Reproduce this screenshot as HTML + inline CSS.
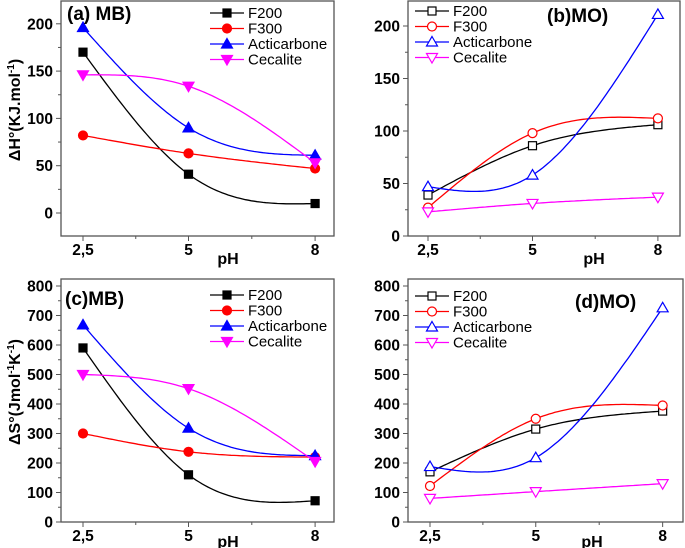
<!DOCTYPE html>
<html><head><meta charset="utf-8"><style>
html,body{margin:0;padding:0;background:#fff;}
svg{display:block;font-family:"Liberation Sans",Arial,sans-serif;}
.b{font-weight:bold;}
</style></head><body>
<svg id="c" width="685" height="548" viewBox="0 0 685 548"></svg>
<script>
const categories=[2.5,5,8];
const tickLabels=["2,5","5","8"];
const seriesNames=["F200","F300","Acticarbone","Cecalite"];
const aF200=[170,41,10],aF300=[82,63,47],aActi=[196,90,61],aCec=[146,134,53];
const bF200=[39,86,106],bF300=[27,98,112],bActi=[47,58,211],bCec=[23,31,37];
const cF200=[590,160,72],cF300=[300,238,220],cActi=[668,318,225],cCec=[500,452,205];
const dF200=[170,315,376],dF300=[122,350,395],dActi=[188,218,726],dCec=[80,103,130];
const aTicks=[0,50,100,150,200],bTicks=[0,50,100,150,200];
const cTicks=[0,100,200,300,400,500,600,700,800],dTicks=[0,100,200,300,400,500,600,700,800];
const colors=["#000","#f00","#00f","#f0f"];
const NS="http://www.w3.org/2000/svg";
const svg=document.getElementById('c');
function mk(t,a,p){const e=document.createElementNS(NS,t);for(const k in a)e.setAttribute(k,a[k]);(p||svg).appendChild(e);return e;}
function spline(xs,ys){
 const n=xs.length,h=[],al=[0],l=[1],mu=[0],z=[0],c=new Array(n).fill(0),b=[],d=[];
 for(let i=0;i<n-1;i++)h.push(xs[i+1]-xs[i]);
 for(let i=1;i<n-1;i++)al.push(3/h[i]*(ys[i+1]-ys[i])-3/h[i-1]*(ys[i]-ys[i-1]));
 for(let i=1;i<n-1;i++){l[i]=2*(xs[i+1]-xs[i-1])-h[i-1]*mu[i-1];mu[i]=h[i]/l[i];z[i]=(al[i]-h[i-1]*z[i-1])/l[i];}
 c[n-1]=0;for(let j=n-2;j>=1;j--)c[j]=z[j]-mu[j]*c[j+1];c[0]=0;
 for(let j=0;j<n-1;j++){b[j]=(ys[j+1]-ys[j])/h[j]-h[j]*(c[j+1]+2*c[j])/3;d[j]=(c[j+1]-c[j])/(3*h[j]);}
 return x=>{let j=x>=xs[1]?1:0;const dx=x-xs[j];return ys[j]+b[j]*dx+c[j]*dx*dx+d[j]*dx*dx*dx;};
}
function marker(g,k,x,y,col,filled,name){
 const f=filled?col:"#fff";let e;
 if(k===0)e=mk('rect',{x:x-4,y:y-4,width:8,height:8,fill:f,stroke:col,'stroke-width':1.2},g);
 else if(k===1)e=mk('circle',{cx:x,cy:y,r:4.5,fill:f,stroke:col,'stroke-width':1.2},g);
 else if(k===2)e=mk('polygon',{points:`${x},${y-5.5} ${x+5.5},${y+4} ${x-5.5},${y+4}`,fill:f,stroke:col,'stroke-width':1.2},g);
 else e=mk('polygon',{points:`${x},${y+5.5} ${x+5.5},${y-4} ${x-5.5},${y-4}`,fill:f,stroke:col,'stroke-width':1.2},g);
 
 
}
function panel(o){
 const g=mk('g',{});
 
 
 const X=v=>o.x0+(v-2.5)*o.kx, Y=v=>o.y0-(v-0)*o.ky;
 const fr=mk('rect',{x:o.L,y:o.T,width:o.R-o.L,height:o.B-o.T,fill:'none',stroke:'#555','stroke-width':1.3},g);
 
 o.ticks.forEach((t,i)=>{const y=Y(t);mk('line',{x1:o.L-5,x2:o.L,y1:y,y2:y,stroke:'#555'},g);
  const tx=mk('text',{x:o.L-8,y:y+5.5,'text-anchor':'end','font-size':15.5,class:'b'},g);tx.textContent=t;
  
  if(i<o.ticks.length-1){const ym=Y((t+o.ticks[i+1])/2);mk('line',{x1:o.L-3,x2:o.L,y1:ym,y2:ym,stroke:'#555'},g);}});
 categories.forEach((c,i)=>{const x=X(c);mk('line',{x1:x,x2:x,y1:o.B,y2:o.B+5,stroke:'#555'},g);
  const tx=mk('text',{x:x,y:o.B+19,'text-anchor':'middle','font-size':15.5,class:'b'},g);tx.textContent=tickLabels[i];
  
  if(i<categories.length-1){const xm=X((c+categories[i+1])/2);mk('line',{x1:xm,x2:xm,y1:o.B,y2:o.B+3,stroke:'#555'},g);}});
 const px=mk('text',{x:o.phx,y:o.phy||o.B+28,'text-anchor':'middle','font-size':16,class:'b'},g);px.textContent='pH';
 
 o.series.forEach((s,k)=>{const f=spline(categories,s);let d='';
  for(let i=0;i<=80;i++){const v=2.5+5.5*i/80;d+=(i?'L':'M')+X(v).toFixed(1)+','+Y(f(v)).toFixed(1);}
  const p=mk('path',{d:d,fill:'none',stroke:colors[k],'stroke-width':1.3},g);
  
  s.forEach((v,i)=>marker(g,k,X(categories[i]),Y(v),colors[k],o.filled,seriesNames[k].toLowerCase()+'-point'));});
 seriesNames.forEach((n,k)=>{const y=o.ly+k*15.5;mk('line',{x1:o.lx,x2:o.lx+34,y1:y,y2:y,stroke:colors[k],'stroke-width':1.3},g);
  marker(g,k,o.lx+17,y,colors[k],o.filled,'legend-marker');
  const t=mk('text',{x:o.lx+38,y:y+5,'font-size':15},g);t.textContent=n;
  });
 const tt=mk('text',{x:o.tx,y:o.ty,'font-size':19,class:'b'},g);tt.textContent=o.title;
 
 if(o.ylab){const yl=mk('text',{x:0,y:0,'font-size':16,class:'b','text-anchor':'middle',transform:`translate(${o.ylx},${o.yly}) rotate(-90)`},g);
  yl.innerHTML=o.ylab;}
}
panel({id:'a',L:61,R:334,T:1,B:236,x0:83,kx:42.2,y0:213,ky:0.946,ticks:aTicks,series:[aF200,aF300,aActi,aCec],filled:true,lx:210,ly:13,tx:67,ty:20,title:'(a) MB)',phx:228,ylab:'ΔH°(KJ.mol<tspan font-size="10" dy="-6">-1</tspan><tspan dy="6">)</tspan>',ylx:20,yly:110});
panel({id:'b',L:408,R:680,T:1,B:236,x0:428,kx:41.8,y0:236,ky:1.05,ticks:bTicks,series:[bF200,bF300,bActi,bCec],filled:false,lx:415,ly:11,tx:547,ty:22,title:'(b)MO)',phx:594});
panel({id:'c',L:61,R:334,T:279,B:522,x0:83,kx:42.2,y0:522,ky:0.295,ticks:cTicks,series:[cF200,cF300,cActi,cCec],filled:true,lx:210,ly:295,tx:65,ty:305,title:'(c)MB)',phx:228,phy:547,ylab:'ΔS°(Jmol<tspan font-size="10" dy="-6">-1</tspan><tspan dy="6">K</tspan><tspan font-size="10" dy="-6">-1</tspan><tspan dy="6">)</tspan>',ylx:20,yly:392});
panel({id:'d',L:408,R:683,T:279,B:522,x0:430,kx:42.3,y0:522,ky:0.295,ticks:dTicks,series:[dF200,dF300,dActi,dCec],filled:false,lx:415,ly:296,tx:575,ty:308,title:'(d)MO)',phx:592,phy:547});
</script>
</body></html>
